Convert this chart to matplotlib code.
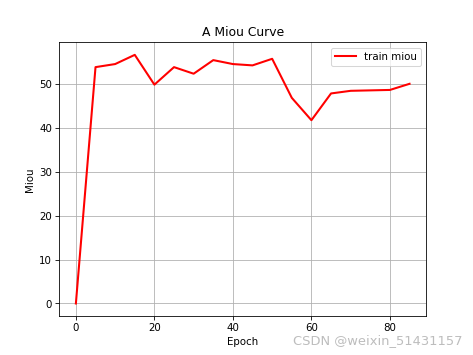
import matplotlib
matplotlib.use('Agg')
import matplotlib.pyplot as plt

# Miou values per epoch
epochs = [0, 5, 10, 15, 20, 25, 30, 35, 40, 45, 50, 55, 60, 65, 70, 75, 80, 85]
miou = [0.0, 53.9, 54.6, 56.7, 49.9, 53.9, 52.4, 55.5, 54.6, 54.3, 55.8,
        46.9, 41.8, 47.9, 48.5, 48.6, 48.7, 50.1]

fig = plt.figure(figsize=(6.4, 4.8), dpi=74)
ax = fig.add_subplot(111)
ax.plot(epochs, miou, color='red', linewidth=2, label='train miou')
ax.grid(True)
ax.set_title('A Miou Curve')
ax.set_xlabel('Epoch')
ax.set_ylabel('Miou')
ax.legend(loc='upper right')

# watermark
fig.text(0.977, 0.022, 'CSDN @weixin_51431157', color='#bdbdbd',
         fontsize=12.6, ha='right', va='bottom')

fig.savefig('out.png', dpi=74)
